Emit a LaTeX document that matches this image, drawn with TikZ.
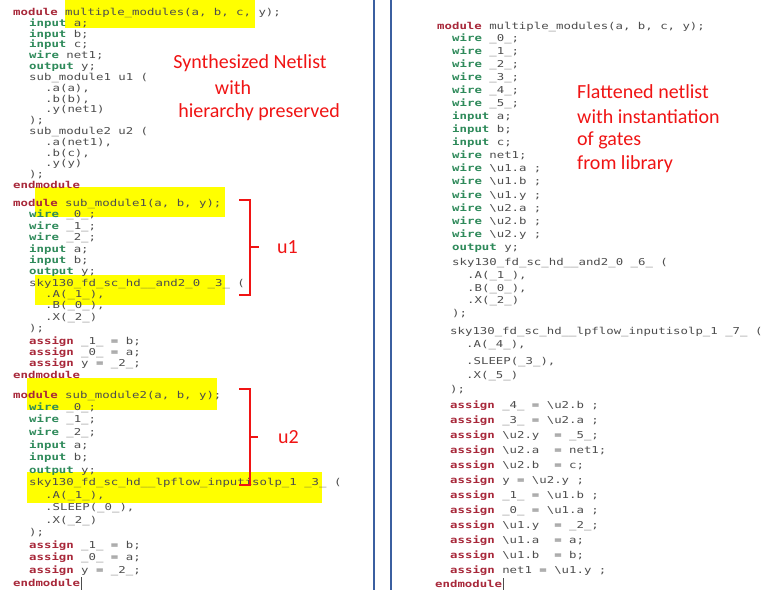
\documentclass[tikz,border=0pt]{standalone}
\usepackage{fontspec}
\usepackage{xcolor}
\newfontfamily\codefnt[FakeStretch=1.3]{DejaVu Sans Mono}
\newfontfamily\annofnt{Carlito}
\definecolor{codegray}{HTML}{4D4D4D}
\definecolor{kwred}{HTML}{A8283A}
\definecolor{kwgreen}{HTML}{2E8A5A}
\definecolor{hlyellow}{HTML}{FFFF00}
\definecolor{annored}{HTML}{F01414}
\definecolor{divblue}{HTML}{3B5FA0}
\newcommand\kr[1]{\textcolor{kwred}{\bfseries #1}}
\newcommand\kg[1]{\textcolor{kwgreen}{\bfseries #1}}
\newcommand\bs{\textbackslash}
\newcommand\cl[4]{\node[codeline] (#1) at (#2,#3) {#4};}
\tikzset{
  codeline/.style={anchor=mid west, inner sep=0pt, text=codegray, font=\codefnt\fontsize{9.5}{11}\selectfont},
  anno/.style={inner sep=0pt, text=annored, font=\annofnt\fontsize{20}{23}\selectfont},
  hl/.style={fill=hlyellow, draw=none},
  bracel/.style={draw=annored, line width=2.6pt},
  divider/.style={draw=divblue, line width=2.5pt},
  cursor/.style={draw=codegray, line width=0.8pt}
}
\begin{document}
\begin{tikzpicture}[x=1pt,y=-1pt]
\useasboundingbox (0,0) rectangle (768,590);
\fill[white] (0,0) rectangle (768,590);
% highlights
\fill[hl] (65,0) rectangle (255,28);
\fill[hl] (35,187) rectangle (225,217);
\fill[hl] (35,275) rectangle (225,305);
\fill[hl] (27,378) rectangle (217,410);
\fill[hl] (27,472) rectangle (322,503);
% dividers
\draw[divider] (374,0) -- (374,590);
\draw[divider] (391,0) -- (391,590);
% left code
\cl{L1}{13}{13}{\kr{module} multiple\_modules(a, b, c, y);}
\cl{L2}{29}{24}{\kg{input} a;}
\cl{L3}{29}{35}{\kg{input} b;}
\cl{L4}{29}{45}{\kg{input} c;}
\cl{L5}{29}{56}{\kg{wire} net1;}
\cl{L6}{29}{67}{\kg{output} y;}
\cl{L7}{29}{78}{sub\_module1 u1 (}
\cl{L8}{45}{89}{.a(a),}
\cl{L9}{45}{100}{.b(b),}
\cl{L10}{45}{110}{.y(net1)}
\cl{L11}{29}{121}{);}
\cl{L12}{29}{132}{sub\_module2 u2 (}
\cl{L13}{45}{143}{.a(net1),}
\cl{L14}{45}{154}{.b(c),}
\cl{L15}{45}{164}{.y(y)}
\cl{L16}{29}{175}{);}
\cl{L17}{13}{186}{\kr{endmodule}}
\cl{L18}{13}{204}{\kr{module} sub\_module1(a, b, y);}
\cl{L19}{29}{215}{\kg{wire} \_0\_;}
\cl{L20}{29}{227}{\kg{wire} \_1\_;}
\cl{L21}{29}{238}{\kg{wire} \_2\_;}
\cl{L22}{29}{250}{\kg{input} a;}
\cl{L23}{29}{261}{\kg{input} b;}
\cl{L24}{29}{272}{\kg{output} y;}
\cl{L25}{29}{284}{sky130\_fd\_sc\_hd\_\_and2\_0 \_3\_ (}
\cl{L26}{45}{295}{.A(\_1\_),}
\cl{L27}{45}{306}{.B(\_0\_),}
\cl{L28}{45}{318}{.X(\_2\_)}
\cl{L29}{29}{329}{);}
\cl{L30}{29}{342}{\kr{assign} \_1\_ = b;}
\cl{L31}{29}{353}{\kr{assign} \_0\_ = a;}
\cl{L32}{29}{364}{\kr{assign} y = \_2\_;}
\cl{L33}{13}{376}{\kr{endmodule}}
\cl{L34}{13}{396}{\kr{module} sub\_module2(a, b, y);}
\cl{L35}{29}{408}{\kg{wire} \_0\_;}
\cl{L36}{29}{420}{\kg{wire} \_1\_;}
\cl{L37}{29}{433}{\kg{wire} \_2\_;}
\cl{L38}{29}{446}{\kg{input} a;}
\cl{L39}{29}{458}{\kg{input} b;}
\cl{L40}{29}{471}{\kg{output} y;}
\cl{L41}{29}{483}{sky130\_fd\_sc\_hd\_\_lpflow\_inputisolp\_1 \_3\_ (}
\cl{L42}{45}{496}{.A(\_1\_),}
\cl{L43}{45}{508}{.SLEEP(\_0\_),}
\cl{L44}{45}{521}{.X(\_2\_)}
\cl{L45}{29}{533}{);}
\cl{L46}{29}{546}{\kr{assign} \_1\_ = b;}
\cl{L47}{29}{558}{\kr{assign} \_0\_ = a;}
\cl{L48}{29}{571}{\kr{assign} y = \_2\_;}
\cl{L49}{13}{584}{\kr{endmodule}}
\coordinate (curL) at (81,577);
\draw[cursor] (curL) -- ++(0,13);
% right code
\cl{R1}{437}{27}{\kr{module} multiple\_modules(a, b, c, y);}
\cl{R2}{452}{39}{\kg{wire} \_0\_;}
\cl{R3}{452}{52}{\kg{wire} \_1\_;}
\cl{R4}{452}{65}{\kg{wire} \_2\_;}
\cl{R5}{452}{78}{\kg{wire} \_3\_;}
\cl{R6}{452}{91}{\kg{wire} \_4\_;}
\cl{R7}{452}{104}{\kg{wire} \_5\_;}
\cl{R8}{452}{117}{\kg{input} a;}
\cl{R9}{452}{130}{\kg{input} b;}
\cl{R10}{452}{143}{\kg{input} c;}
\cl{R11}{452}{156}{\kg{wire} net1;}
\cl{R12}{452}{169}{\kg{wire} \bs u1.a ;}
\cl{R13}{452}{182}{\kg{wire} \bs u1.b ;}
\cl{R14}{452}{196}{\kg{wire} \bs u1.y ;}
\cl{R15}{452}{209}{\kg{wire} \bs u2.a ;}
\cl{R16}{452}{222}{\kg{wire} \bs u2.b ;}
\cl{R17}{452}{235}{\kg{wire} \bs u2.y ;}
\cl{R18}{452}{248}{\kg{output} y;}
\cl{R19}{452}{263}{sky130\_fd\_sc\_hd\_\_and2\_0 \_6\_ (}
\cl{R20}{467}{276}{.A(\_1\_),}
\cl{R21}{467}{289}{.B(\_0\_),}
\cl{R22}{467}{301}{.X(\_2\_)}
\cl{R23}{452}{314}{);}
\cl{R24}{450}{332}{sky130\_fd\_sc\_hd\_\_lpflow\_inputisolp\_1 \_7\_ (}
\cl{R25}{466}{345}{.A(\_4\_),}
\cl{R26}{466}{362}{.SLEEP(\_3\_),}
\cl{R27}{466}{376}{.X(\_5\_)}
\cl{R28}{450}{390}{);}
\cl{R29}{450}{406}{\kr{assign} \_4\_ = \bs u2.b ;}
\cl{R30}{450}{421}{\kr{assign} \_3\_ = \bs u2.a ;}
\cl{R31}{450}{436}{\kr{assign} \bs u2.y ~= \_5\_;}
\cl{R32}{450}{451}{\kr{assign} \bs u2.a ~= net1;}
\cl{R33}{450}{466}{\kr{assign} \bs u2.b ~= c;}
\cl{R34}{450}{481}{\kr{assign} y = \bs u2.y ;}
\cl{R35}{450}{496}{\kr{assign} \_1\_ = \bs u1.b ;}
\cl{R36}{450}{511}{\kr{assign} \_0\_ = \bs u1.a ;}
\cl{R37}{450}{526}{\kr{assign} \bs u1.y ~= \_2\_;}
\cl{R38}{450}{541}{\kr{assign} \bs u1.a ~= a;}
\cl{R39}{450}{556}{\kr{assign} \bs u1.b ~= b;}
\cl{R40}{450}{571}{\kr{assign} net1 = \bs u1.y ;}
\cl{R41}{435}{585}{\kr{endmodule}}
\coordinate (curR) at (503,578);
\draw[cursor] (curR) -- ++(0,12);
% annotations
\node[anno] (synth) at (250,63) {Synthesized Netlist};
\node[anno] (with1) at (233,88) {with};
\node[anno] (hier) at (259,112) {hierarchy preserved};
\node[anno, anchor=west] (flat1) at (577,92) {Flattened netlist};
\node[anno, anchor=west] (flat2) at (577,117) {with instantiation};
\node[anno, anchor=west] (flat3) at (577,140) {of gates};
\node[anno, anchor=west] (flat4) at (577,164) {from library};
% braces
\coordinate (b1t) at (239,200);
\coordinate (b1b) at (239,295);
\coordinate (b1m) at (250,247);
\draw[bracel, line join=miter] (b1t) -- (250,200) -- (250,295) -- (b1b);
\draw[bracel] (b1m) -- ++(9,0);
\node[anno, anchor=west] (u1) at (277,247) {u1};
\coordinate (b2t) at (239,389);
\coordinate (b2b) at (239,485);
\coordinate (b2m) at (250,437);
\draw[bracel, line join=miter] (b2t) -- (250,389) -- (250,485) -- (b2b);
\draw[bracel] (b2m) -- ++(8,0);
\node[anno, anchor=west] (u2) at (278,437) {u2};
\end{tikzpicture}
\end{document}
